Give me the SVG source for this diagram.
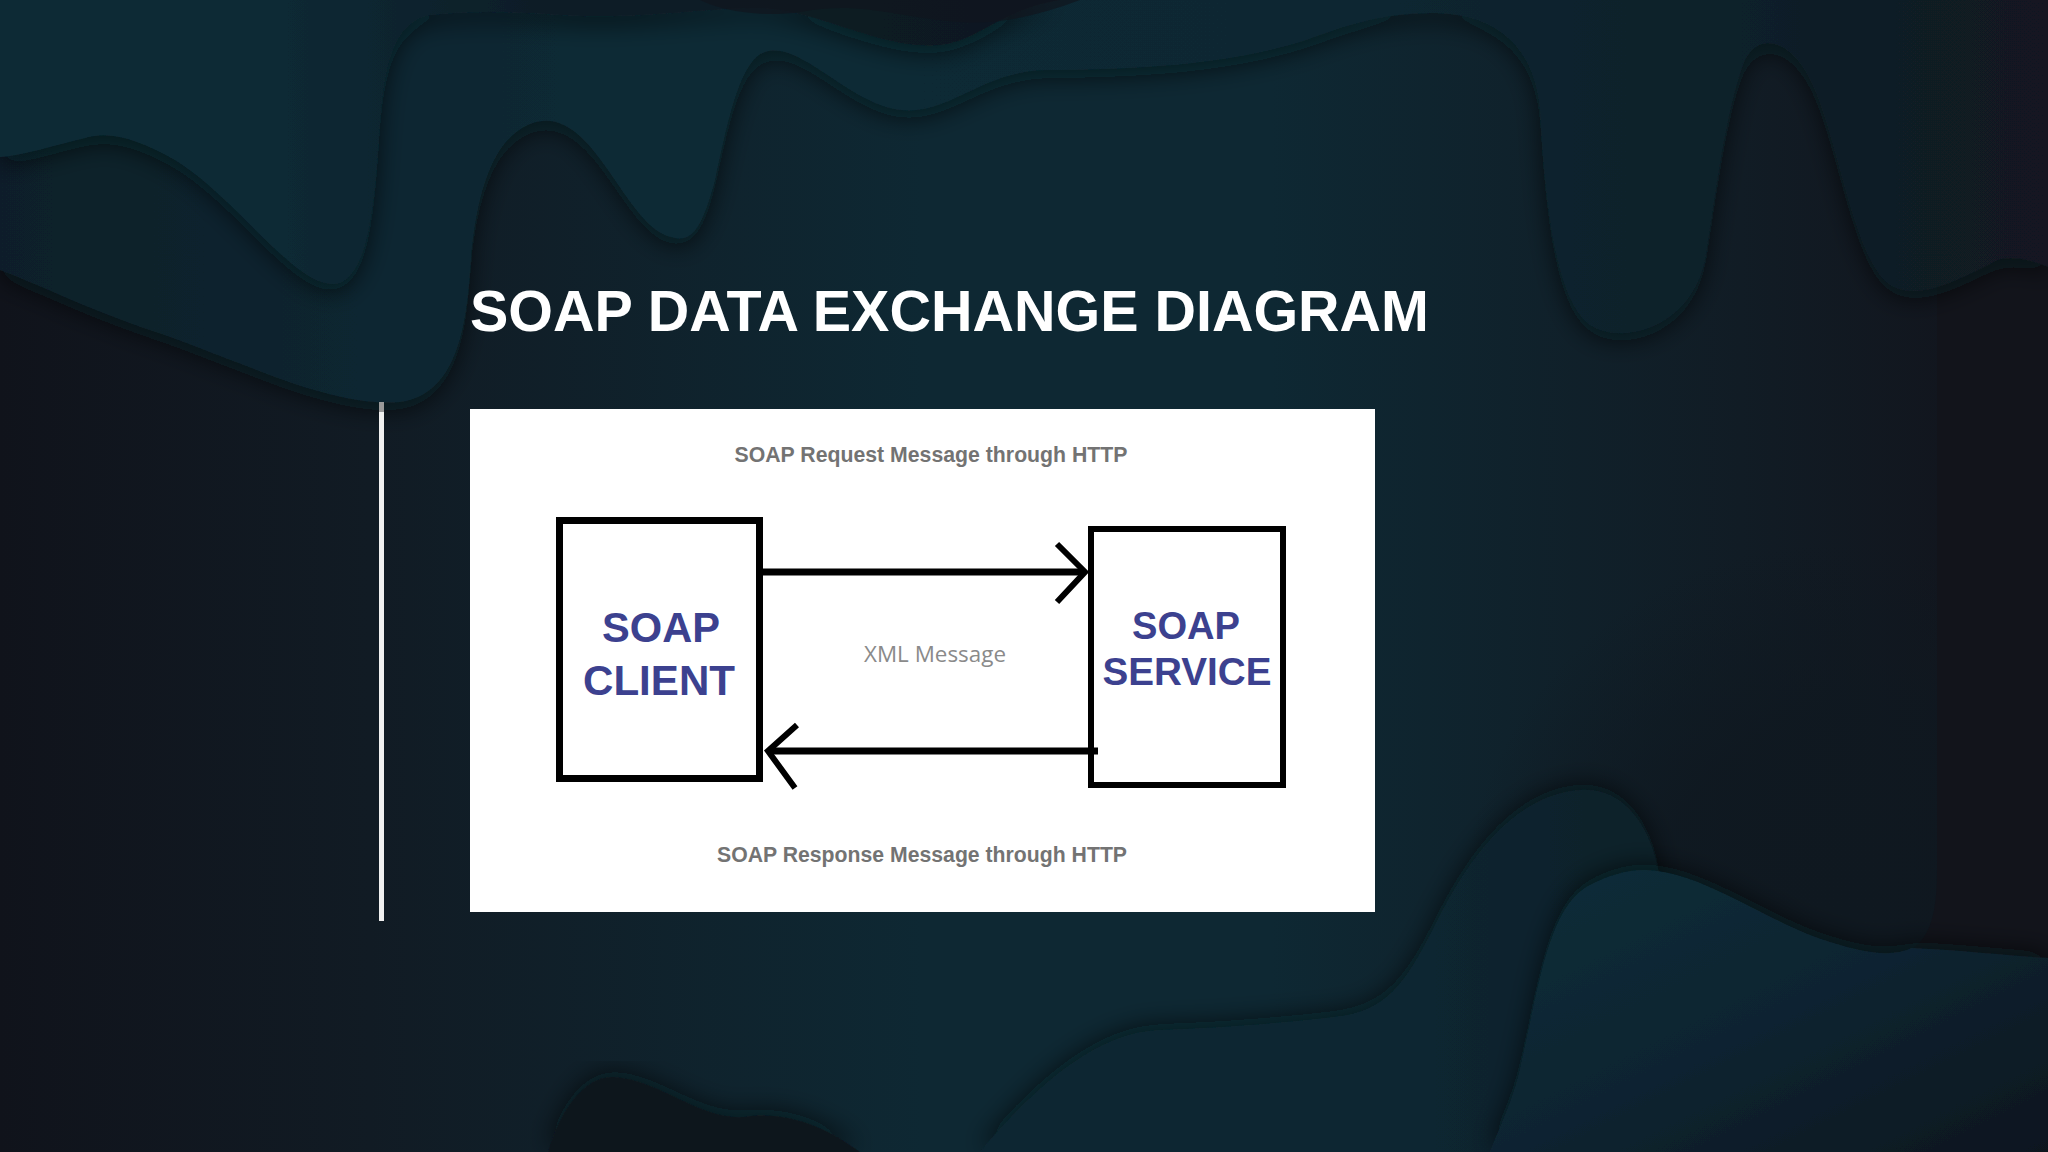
<svg xmlns="http://www.w3.org/2000/svg" width="2048" height="1152" viewBox="0 0 2048 1152">
  <defs>
    <linearGradient id="bgH" x1="0" y1="0" x2="1" y2="0">
      <stop offset="0" stop-color="#10131b"/>
      <stop offset="0.18" stop-color="#111b24"/>
      <stop offset="0.45" stop-color="#0e2833"/>
      <stop offset="0.62" stop-color="#0e2833"/>
      <stop offset="0.85" stop-color="#111c25"/>
      <stop offset="1" stop-color="#12131b"/>
    </linearGradient>
    <linearGradient id="layerTop" x1="0" y1="0" x2="1" y2="0">
      <stop offset="0" stop-color="#0f1f29"/>
      <stop offset="0.3" stop-color="#0f2a35"/>
      <stop offset="0.6" stop-color="#0e2833"/>
      <stop offset="0.85" stop-color="#10202a"/>
      <stop offset="1" stop-color="#121820"/>
    </linearGradient>
    <linearGradient id="layerTop2" x1="0" y1="0" x2="1" y2="0">
      <stop offset="0" stop-color="#0f2a35"/>
      <stop offset="0.25" stop-color="#0e2a35"/>
      <stop offset="0.5" stop-color="#101e28"/>
      <stop offset="1" stop-color="#111820"/>
    </linearGradient>
    <linearGradient id="layerMid" x1="0" y1="0" x2="1" y2="0">
      <stop offset="0" stop-color="#0e2630"/>
      <stop offset="0.5" stop-color="#0e2833"/>
      <stop offset="1" stop-color="#10202a"/>
    </linearGradient>
    <linearGradient id="lobe" x1="0" y1="0" x2="1" y2="1">
      <stop offset="0" stop-color="#0b2e39"/>
      <stop offset="0.5" stop-color="#0f2431"/>
      <stop offset="1" stop-color="#11161f"/>
    </linearGradient>
    <radialGradient id="darkFade" gradientUnits="userSpaceOnUse" cx="1840" cy="920" r="380">
      <stop offset="0" stop-color="#0f1820" stop-opacity="1"/>
      <stop offset="0.5" stop-color="#0f1820" stop-opacity="0.85"/>
      <stop offset="1" stop-color="#0f1820" stop-opacity="0"/>
    </radialGradient>
    <filter id="shadow" x="-10%" y="-10%" width="120%" height="130%">
      <feDropShadow dx="0" dy="8" stdDeviation="12" flood-color="#050a0f" flood-opacity="0.6"/>
    </filter>
    <filter id="shadowUp" x="-10%" y="-20%" width="120%" height="130%">
      <feDropShadow dx="0" dy="-6" stdDeviation="12" flood-color="#050a0f" flood-opacity="0.6"/>
    </filter>
    <style>
      .box { fill: #ffffff; stroke: #000000; }
      .conn { fill: none; stroke: #000000; stroke-linecap: butt; stroke-linejoin: miter; }
      .nodeText { font-family: "Liberation Sans", Arial, sans-serif; font-weight: bold; fill: #3c418f; text-anchor: middle; }
      .httpText { font-family: "Liberation Sans", Arial, sans-serif; font-weight: bold; fill: #737373; font-size: 21.3px; text-anchor: middle; }
      .xmlText { font-family: "Open Sans", "Noto Sans", sans-serif; font-weight: normal; fill: #8a8a8a; font-size: 21px; text-anchor: middle; }
      .title { font-family: "Liberation Sans", Arial, sans-serif; font-weight: bold; fill: #ffffff; font-size: 57px; }
    </style>
  </defs>

  <!-- background -->
  <g id="background">
    <rect x="0" y="0" width="2048" height="1152" fill="url(#bgH)"/>
    <!-- bottom layers -->
    <rect x="1440" y="530" width="500" height="500" fill="url(#darkFade)"/>
    <path d="M980,1152 C1040,1080 1100,1032 1160,1030 C1230,1028 1290,1022 1335,1017 C1385,1012 1405,985 1435,925 C1475,845 1520,795 1580,790 C1620,787 1650,820 1660,878 L1640,1152 Z" fill="url(#layerMid)" filter="url(#shadowUp)"/>
    <path d="M1937,0 L2048,0 L2048,1152 L1900,1152 L1900,955 C1930,945 1937,915 1937,870 Z" fill="#12141b"/>
    <path d="M1490,1152 C1505,1115 1515,1095 1522,1060 C1540,980 1550,905 1590,885 C1608,876 1625,870 1645,870 C1705,872 1765,922 1830,942 C1862,952 1890,958 1912,948 C1960,950 2000,955 2048,958 L2048,1152 Z" fill="url(#lobe)" filter="url(#shadowUp)"/>
    <path d="M548,1152 C560,1110 585,1075 614,1077 C660,1080 700,1120 744,1117 C790,1110 830,1130 860,1152 Z" fill="#10161e" filter="url(#shadowUp)"/>
    <!-- top layer A -->
    <path d="M0,0 L2048,0 L2048,267 C2025,258 2005,255 1992,263 C1950,285 1915,300 1890,285 C1855,260 1840,150 1815,90 C1795,40 1760,30 1745,60 C1725,110 1715,200 1705,260 C1690,330 1620,345 1590,325 C1555,300 1545,200 1540,110 C1535,50 1500,15 1437,13 C1380,12 1340,28 1306,40 C1230,65 1130,70 1045,70 C980,72 950,115 901,110 C850,105 800,40 765,52 C740,60 728,120 715,180 C700,235 690,245 665,235 C620,215 590,100 530,124 C490,140 475,200 470,270 C466,330 455,395 400,402 C330,408 240,360 150,330 C90,310 40,285 0,270 Z" fill="url(#layerTop)" filter="url(#shadow)"/>
    <!-- top layer B -->
    <path d="M0,0 L1060,0 C1000,10 980,40 940,45 C880,50 820,10 760,8 C700,8 640,20 560,15 C520,12 470,10 430,15 C395,22 385,60 380,120 C375,200 370,270 340,283 C300,295 240,200 175,160 C140,140 110,130 85,138 C55,145 25,155 0,157 Z" fill="url(#layerTop2)" filter="url(#shadow)"/>
    <path d="M700,0 L1080,0 C1040,15 1000,25 960,22 C900,18 860,0 800,12 C760,18 720,10 700,0 Z" fill="#11161e" opacity="0.7"/>
  </g>

  <!-- vertical accent line -->
  <g id="accent-line">
    <rect x="379" y="402" width="5" height="519" fill="#f0f0f0"/>
    <rect x="379" y="402" width="5" height="10" fill="#9a9a9a"/>
  </g>

  <!-- title -->
  <g id="title">
    <text class="title" x="470" y="331" textLength="959" lengthAdjust="spacingAndGlyphs">SOAP DATA EXCHANGE DIAGRAM</text>
  </g>

  <!-- white panel -->
  <g id="panel">
    <rect x="470" y="409" width="905" height="503" fill="#ffffff"/>
  </g>

  <!-- labels -->
  <g id="labels">
    <text class="httpText" x="931" y="462" textLength="393" lengthAdjust="spacingAndGlyphs">SOAP Request Message through HTTP</text>
    <text class="xmlText" x="935" y="662" textLength="142" lengthAdjust="spacingAndGlyphs">XML Message</text>
    <text class="httpText" x="922" y="862" textLength="410" lengthAdjust="spacingAndGlyphs">SOAP Response Message through HTTP</text>
  </g>

  <!-- nodes -->
  <g id="soap-client">
    <rect class="box" x="559.5" y="520.5" width="200" height="258" stroke-width="7"/>
    <text class="nodeText" x="661" y="642" font-size="42" textLength="118" lengthAdjust="spacingAndGlyphs">SOAP</text>
    <text class="nodeText" x="659" y="695" font-size="42" textLength="152" lengthAdjust="spacingAndGlyphs">CLIENT</text>
  </g>
  <g id="soap-service">
    <rect class="box" x="1091" y="529" width="192" height="256" stroke-width="6"/>
    <text class="nodeText" x="1186" y="639" font-size="39" textLength="108" lengthAdjust="spacingAndGlyphs">SOAP</text>
    <text class="nodeText" x="1187" y="685" font-size="39" textLength="169" lengthAdjust="spacingAndGlyphs">SERVICE</text>
  </g>

  <!-- connectors -->
  <g id="connectors">
    <line class="conn" x1="763" y1="572" x2="1084" y2="572" stroke-width="7"/>
    <polyline class="conn" points="1057,544 1085,572 1057,602" stroke-width="6"/>
    <line class="conn" x1="1098" y1="751" x2="768" y2="751" stroke-width="7"/>
    <polyline class="conn" points="797,725 768,751 795,788" stroke-width="6"/>
  </g>
</svg>
